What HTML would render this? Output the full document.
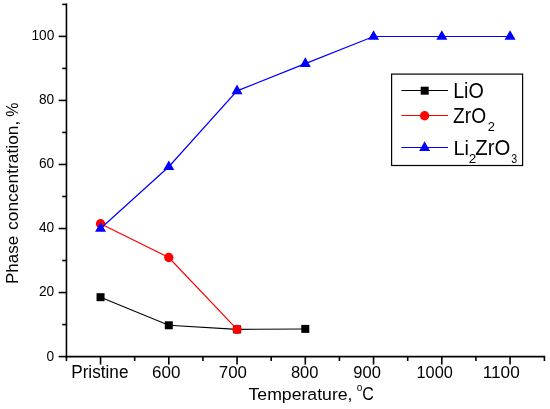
<!DOCTYPE html>
<html lang="en">
<head>
<meta charset="utf-8">
<title>Phase concentration vs temperature</title>
<style>
html,body{margin:0;padding:0;background:#ffffff;}
body{width:550px;height:409px;overflow:hidden;position:relative;}
</style>
</head>
<body>
<svg width="550" height="409" viewBox="0 0 550 409" style="display:block;position:absolute;left:0;top:0">
<rect x="0" y="0" width="550" height="409" fill="#ffffff"/>
<polyline points="100.55,297.20 168.80,325.28 237.05,329.38 305.30,328.90" fill="none" stroke="#000000" stroke-width="1.05"/>
<rect x="96.55" y="293.20" width="8" height="8" fill="#000000"/>
<rect x="164.80" y="321.28" width="8" height="8" fill="#000000"/>
<rect x="233.05" y="325.38" width="8" height="8" fill="#000000"/>
<rect x="301.30" y="324.90" width="8" height="8" fill="#000000"/>
<polyline points="100.55,223.72 168.80,257.50 237.05,329.38" fill="none" stroke="#ff0000" stroke-width="1.2"/>
<circle cx="100.55" cy="223.72" r="4.7" fill="#ff0000"/>
<circle cx="168.80" cy="257.50" r="4.7" fill="#ff0000"/>
<circle cx="237.05" cy="329.38" r="4.7" fill="#ff0000"/>
<polyline points="100.55,228.52 168.80,166.72 237.05,90.83 305.30,63.62 373.55,36.50 441.80,36.50 510.05,36.50" fill="none" stroke="#0000ff" stroke-width="1.2"/>
<polygon points="100.55,222.22 95.05,231.82 106.05,231.82" fill="#0000ff"/>
<polygon points="168.80,160.42 163.30,170.02 174.30,170.02" fill="#0000ff"/>
<polygon points="237.05,84.53 231.55,94.13 242.55,94.13" fill="#0000ff"/>
<polygon points="305.30,57.32 299.80,66.92 310.80,66.92" fill="#0000ff"/>
<polygon points="373.55,30.20 368.05,39.80 379.05,39.80" fill="#0000ff"/>
<polygon points="441.80,30.20 436.30,39.80 447.30,39.80" fill="#0000ff"/>
<polygon points="510.05,30.20 504.55,39.80 515.55,39.80" fill="#0000ff"/>
<g stroke="#000000" stroke-width="1.6" fill="none">
<line x1="66.45" y1="3.60" x2="66.45" y2="357.40"/>
<line x1="65.65" y1="356.60" x2="545.20" y2="356.60"/>
<line x1="58.65" y1="356.60" x2="66.45" y2="356.60"/>
<line x1="62.25" y1="324.58" x2="66.45" y2="324.58"/>
<line x1="58.65" y1="292.56" x2="66.45" y2="292.56"/>
<line x1="62.25" y1="260.54" x2="66.45" y2="260.54"/>
<line x1="58.65" y1="228.52" x2="66.45" y2="228.52"/>
<line x1="62.25" y1="196.50" x2="66.45" y2="196.50"/>
<line x1="58.65" y1="164.48" x2="66.45" y2="164.48"/>
<line x1="62.25" y1="132.46" x2="66.45" y2="132.46"/>
<line x1="58.65" y1="100.44" x2="66.45" y2="100.44"/>
<line x1="62.25" y1="68.42" x2="66.45" y2="68.42"/>
<line x1="58.65" y1="36.40" x2="66.45" y2="36.40"/>
<line x1="62.25" y1="4.40" x2="66.45" y2="4.40"/>
<line x1="66.45" y1="356.60" x2="66.45" y2="361.00"/>
<line x1="100.55" y1="356.60" x2="100.55" y2="364.60"/>
<line x1="134.68" y1="356.60" x2="134.68" y2="361.00"/>
<line x1="168.80" y1="356.60" x2="168.80" y2="364.60"/>
<line x1="202.93" y1="356.60" x2="202.93" y2="361.00"/>
<line x1="237.05" y1="356.60" x2="237.05" y2="364.60"/>
<line x1="271.18" y1="356.60" x2="271.18" y2="361.00"/>
<line x1="305.30" y1="356.60" x2="305.30" y2="364.60"/>
<line x1="339.43" y1="356.60" x2="339.43" y2="361.00"/>
<line x1="373.55" y1="356.60" x2="373.55" y2="364.60"/>
<line x1="407.68" y1="356.60" x2="407.68" y2="361.00"/>
<line x1="441.80" y1="356.60" x2="441.80" y2="364.60"/>
<line x1="475.93" y1="356.60" x2="475.93" y2="361.00"/>
<line x1="510.05" y1="356.60" x2="510.05" y2="364.60"/>
<line x1="544.40" y1="356.60" x2="544.40" y2="361.00"/>
</g>
<rect x="391.6" y="74.1" width="131.0" height="91.4" fill="#ffffff" stroke="#000000" stroke-width="1.2"/>
<line x1="401.4" y1="90.50" x2="448" y2="90.50" stroke="#000000" stroke-width="1.0"/>
<line x1="401.4" y1="115.50" x2="448" y2="115.50" stroke="#ff0000" stroke-width="1.0"/>
<line x1="401.4" y1="147.50" x2="448" y2="147.50" stroke="#0000ff" stroke-width="1.0"/>
<rect x="420.7" y="86.7" width="8" height="8" fill="#000000"/>
<circle cx="424.6" cy="115.8" r="4.7" fill="#ff0000"/>
<polygon points="424.60,141.30 419.10,150.90 430.10,150.90" fill="#0000ff"/>
<g font-family="'Liberation Sans', Arial, sans-serif" fill="#000000">
<text transform="matrix(0.9793 0 0 1.0256 46.60 360.50)" font-size="14">0</text>
<text transform="matrix(0.9793 0 0 1.0256 39.01 296.38)" font-size="14">20</text>
<text transform="matrix(0.9793 0 0 1.0256 39.01 232.26)" font-size="14">40</text>
<text transform="matrix(0.9793 0 0 1.0256 39.01 168.14)" font-size="14">60</text>
<text transform="matrix(0.9793 0 0 1.0256 39.01 104.02)" font-size="14">80</text>
<text transform="matrix(0.9793 0 0 1.0256 31.42 39.90)" font-size="14">100</text>
<text transform="matrix(0.9982 0 0 1.0300 71.20 377.70)" font-size="17.2">Pristine</text>
<text transform="matrix(0.9889 0 0 0.9796 152.11 378.06)" font-size="17.2">600</text>
<text transform="matrix(0.9815 0 0 0.9796 218.82 378.06)" font-size="17.2">700</text>
<text transform="matrix(0.9615 0 0 0.9796 290.88 378.06)" font-size="17.2">800</text>
<text transform="matrix(0.9615 0 0 0.9796 353.28 378.06)" font-size="17.2">900</text>
<text transform="matrix(0.9490 0 0 0.9796 416.51 378.06)" font-size="17.2">1000</text>
<text transform="matrix(1.0000 0 0 0.9796 482.75 378.06)" font-size="17.2">1100</text>
<text transform="matrix(1.0277 0 0 1.0000 248.49 399.60)" font-size="17.2">Temperature,</text>
<text transform="matrix(0.9143 0 0 0.9833 356.64 391.20)" font-size="11">o</text>
<text transform="matrix(0.9349 0 0 1.0367 362.27 399.84)" font-size="17.2">C</text>
<text transform="matrix(0.9842 0 0 1.0915 453.13 97.83)" font-size="20">LiO</text>
<text transform="matrix(0.9588 0 0 1.1088 453.08 122.72)" font-size="20">ZrO</text>
<text transform="matrix(1.0727 0 0 1.0303 487.76 130.50)" font-size="12">2</text>
<text transform="matrix(1.0000 0 0 1.0069 453.45 154.70)" font-size="20">Li</text>
<text transform="matrix(1.1273 0 0 1.0667 468.64 162.70)" font-size="12">2</text>
<text transform="matrix(1.0168 0 0 1.0807 475.34 154.93)" font-size="20">ZrO</text>
<text transform="matrix(0.8870 0 0 1.1394 511.26 162.80)" font-size="12">3</text>
<text transform="translate(18.30,282.50) rotate(-90) scale(0.9871,1.0000) translate(-1.500,0)" font-size="17.2">Phase</text>
<text transform="translate(18.30,229.20) rotate(-90) scale(1.0128,1.0000) translate(-0.750,0)" font-size="17.2">concentration,</text>
<text transform="translate(18.30,116.30) rotate(-90) scale(0.9263,1.0000) translate(-0.500,0)" font-size="17.2">%</text>
</g>
</svg>
</body>
</html>
